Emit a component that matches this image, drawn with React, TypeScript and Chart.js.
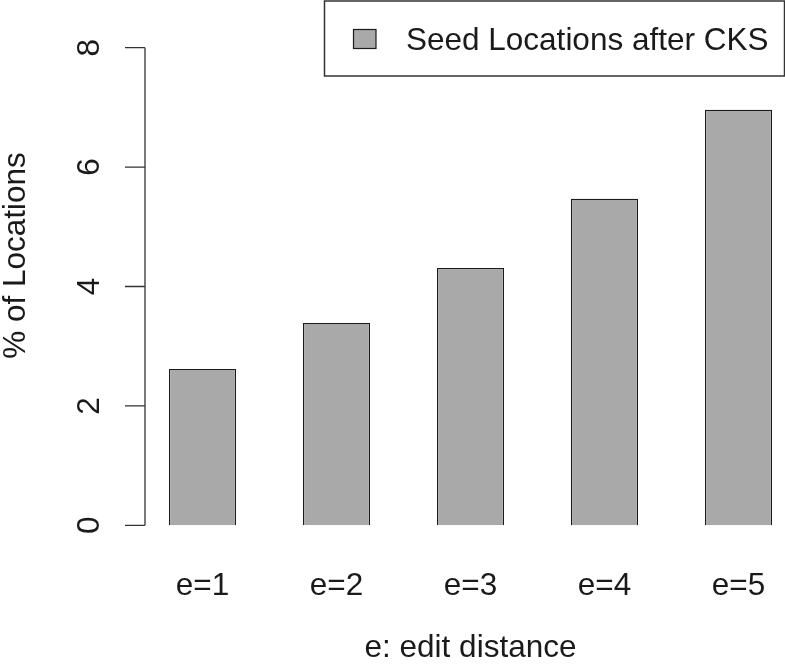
import React, { useEffect, useRef } from 'react';
import { Chart, registerables } from 'chart.js';

Chart.register(...registerables);

const categories = ['e=1', 'e=2', 'e=3', 'e=4', 'e=5'];
const seedLocations = [2.62, 3.39, 4.31, 5.47, 6.96];
const yTicks = [0, 2, 4, 6, 8];
const seriesLabel = 'Seed Locations after CKS';
const xTitle = 'e: edit distance';
const yTitle = '% of Locations';

const FONT = '31.5px "Liberation Sans", Arial, Helvetica, sans-serif';
const BAR_FILL = '#A9A9A9';
const INK = '#1a1a1a';

const rPlot = {
  id: 'rplot',
  afterDraw(chart: any) {
    const ctx: CanvasRenderingContext2D = chart.ctx;
    const xs = chart.scales.x;
    const ys = chart.scales.y;
    const axisX = chart.chartArea.left;
    ctx.save();

    // y axis line + ticks
    ctx.strokeStyle = '#333';
    ctx.lineWidth = 1.3;
    ctx.beginPath();
    ctx.moveTo(axisX, ys.getPixelForValue(yTicks[0]));
    ctx.lineTo(axisX, ys.getPixelForValue(yTicks[yTicks.length - 1]));
    yTicks.forEach((t) => {
      const py = ys.getPixelForValue(t);
      ctx.moveTo(axisX - 20, py);
      ctx.lineTo(axisX, py);
    });
    ctx.stroke();

    ctx.fillStyle = INK;
    ctx.font = FONT;
    ctx.textAlign = 'center';
    ctx.textBaseline = 'alphabetic';

    // y tick labels (rotated, R style)
    yTicks.forEach((t) => {
      ctx.save();
      ctx.translate(axisX - 46, ys.getPixelForValue(t));
      ctx.rotate(-Math.PI / 2);
      ctx.fillText(String(t), 0, 0);
      ctx.restore();
    });

    // y title
    ctx.save();
    ctx.translate(25, 255.5);
    ctx.rotate(-Math.PI / 2);
    ctx.fillText(yTitle, 0, 0);
    ctx.restore();

    // x category labels
    categories.forEach((c, i) => {
      ctx.fillText(c, xs.getPixelForValue(i + 1), 595);
    });

    // x title centred between first and last bar centres
    const cx = (xs.getPixelForValue(1) + xs.getPixelForValue(categories.length)) / 2;
    ctx.fillText(xTitle, cx, 657);

    // legend
    ctx.fillStyle = '#fff';
    ctx.fillRect(324.5, 1, 460, 75);
    ctx.strokeStyle = '#333';
    ctx.lineWidth = 1.5;
    ctx.strokeRect(324.5, 1, 460, 75);
    ctx.fillStyle = BAR_FILL;
    ctx.fillRect(353.5, 29.5, 22.5, 19);
    ctx.strokeStyle = INK;
    ctx.lineWidth = 1.2;
    ctx.strokeRect(353.5, 29.5, 22.5, 19);
    ctx.fillStyle = INK;
    ctx.textAlign = 'left';
    ctx.fillText(chart.data.datasets[0].label, 406, 49.5);

    ctx.restore();
  },
};

export default function App() {
  const ref = useRef<HTMLCanvasElement | null>(null);

  useEffect(() => {
    if (!ref.current) return;
    const chart = new Chart(ref.current, {
      type: 'bar',
      data: {
        datasets: [
          {
            label: seriesLabel,
            data: seedLocations.map((v, i) => ({ x: i + 1, y: v })),
            backgroundColor: BAR_FILL,
            borderColor: INK,
            borderWidth: 1.2,
            barPercentage: 0.5,
            categoryPercentage: 1,
          },
        ],
      },
      options: {
        animation: false,
        responsive: false,
        devicePixelRatio: 1,
        layout: { padding: { left: 145, right: 0, top: 28.6, bottom: 126.6 } },
        plugins: {
          legend: { display: false },
          tooltip: { enabled: false },
          title: { display: false },
        },
        scales: {
          x: {
            type: 'linear',
            display: false,
            offset: false,
            min: 0.571,
            max: 5.347,
            grid: { display: false, offset: false },
            afterBuildTicks: (s: any) => {
              s.ticks = categories.map((_, i) => ({ value: i + 1 }));
            },
          },
          y: {
            type: 'linear',
            display: false,
            min: -0.32,
            max: 8.32,
            grid: { display: false },
          },
        },
      },
      plugins: [rPlot],
    } as any);
    return () => chart.destroy();
  }, []);

  return (
    <div style={{ position: 'absolute', left: 0, top: 0, width: 785, height: 671, background: '#fff' }}>
      <canvas ref={ref} width={785} height={671} style={{ display: 'block' }} />
    </div>
  );
}
